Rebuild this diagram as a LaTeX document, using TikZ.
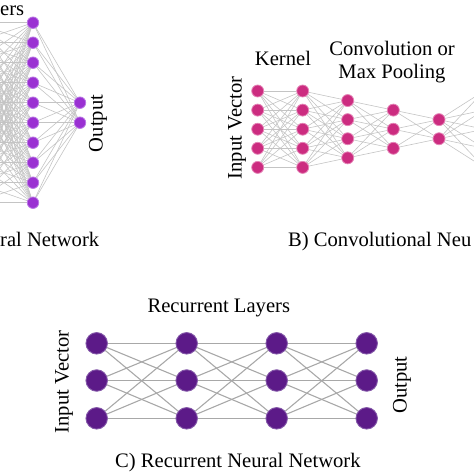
\documentclass[tikz,border=0pt]{standalone}
\usepackage{fontspec}
\setmainfont{Liberation Serif}
\usetikzlibrary{backgrounds}
\definecolor{DnnViolet}{HTML}{9A30D2}
\definecolor{DnnRim}{HTML}{B978E4}
\definecolor{CnnPink}{HTML}{CC2C80}
\definecolor{CnnRim}{HTML}{E484B6}
\definecolor{RnnPurple}{HTML}{5C1A88}
\definecolor{RnnRim}{HTML}{8458A8}
\definecolor{LinkGray}{HTML}{C4C4C4}
\definecolor{LinkDark}{HTML}{A8A8A8}

\begin{document}
\begin{tikzpicture}[x=1pt,y=-1pt,
  every node/.style={font=\fontsize{20.6}{22.3}\selectfont, inner sep=0pt},
  dnn/.style={circle, fill=DnnViolet, draw=DnnRim, line width=0.8pt, minimum size=11.5pt},
  cnn/.style={circle, fill=CnnPink, draw=CnnRim, line width=0.8pt, minimum size=12pt},
  rnn/.style={circle, fill=RnnPurple, draw=RnnRim, line width=0.9pt, minimum size=21.5pt},
  link/.style={LinkGray, line width=0.6pt},
  rlink/.style={LinkDark, line width=1.1pt}]
  \useasboundingbox (0,0) rectangle (474,474);
  \clip (0,0) rectangle (474,474);

  % A) dense network, cut at the left border
  \foreach \i in {1,...,10} {
    \pgfmathsetmacro\yy{2.7+20*\i}
    \coordinate (dh-\i) at (-25,\yy);
    \node[dnn] (dl-\i) at (33,\yy) {};
  }
  \node[dnn] (do-1) at (80,102.7) {};
  \node[dnn] (do-2) at (80,122.7) {};
  \begin{scope}[on background layer]
    \foreach \i in {1,...,10} {
      \foreach \j in {1,...,10} \draw[link] (dh-\i) -- (dl-\j);
      \foreach \j in {1,2} \draw[link] (dl-\i) -- (do-\j);
    }
  \end{scope}
  \node[anchor=base west] (dnntitle) at (0,15) {ers};
  \node[rotate=90] (dnnout) at (98,123.5) {Output};
  \node[anchor=base west] (dnncap) at (0,246) {ral Network};

  % B) convolutional network
  \foreach \c/\x/\n in {1/257.7/5, 2/302.7/5, 3/347.7/4, 4/393.3/3, 5/439/2} {
    \foreach \i in {1,...,\n} {
      \pgfmathsetmacro\yy{129.2+19.1*(\i-(\n+1)/2)}
      \node[cnn] (cnn-\c-\i) at (\x,\yy) {};
    }
  }
  \foreach \i in {1,...,5} {
    \pgfmathsetmacro\yy{129.2+19.1*(\i-3)}
    \coordinate (cnn-6-\i) at (484,\yy);
  }
  \begin{scope}[on background layer]
    \foreach \a/\b/\na/\nb in {1/2/5/5, 2/3/5/4, 3/4/4/3, 4/5/3/2, 5/6/2/5} {
      \foreach \i in {1,...,\na} {
        \foreach \j in {1,...,\nb} \draw[link] (cnn-\a-\i) -- (cnn-\b-\j);
      }
    }
  \end{scope}
  \node[rotate=90] (cnnin) at (237,128) {Input Vector};
  \node[anchor=base] (cnnkernel) at (283,65) {Kernel};
  \node[anchor=north, align=center] (cnnconv) at (392,41.5) {Convolution or\\Max Pooling};
  \node[anchor=base west] (cnncap) at (288,246) {B) Convolutional Neu};

  % C) recurrent network
  \foreach \c/\x in {1/96.7, 2/186.7, 3/276.7, 4/366.7} {
    \foreach \i/\yy in {1/343.3, 2/380.5, 3/418.3} {
      \node[rnn] (rnn-\c-\i) at (\x,\yy) {};
    }
  }
  \begin{scope}[on background layer]
    \foreach \a/\b in {1/2, 2/3, 3/4} {
      \foreach \i in {1,2,3} {
        \foreach \j in {1,2,3} \draw[rlink] (rnn-\a-\i) -- (rnn-\b-\j);
      }
    }
  \end{scope}
  \node[anchor=base] (rnnlayers) at (218.8,312.7) {Recurrent Layers};
  \node[rotate=90] (rnnin) at (64,382) {Input Vector};
  \node[rotate=90] (rnnout) at (402,385) {Output};
  \node[anchor=base west] (rnncap) at (115,467.5) {C) Recurrent Neural Network};
\end{tikzpicture}
\end{document}
